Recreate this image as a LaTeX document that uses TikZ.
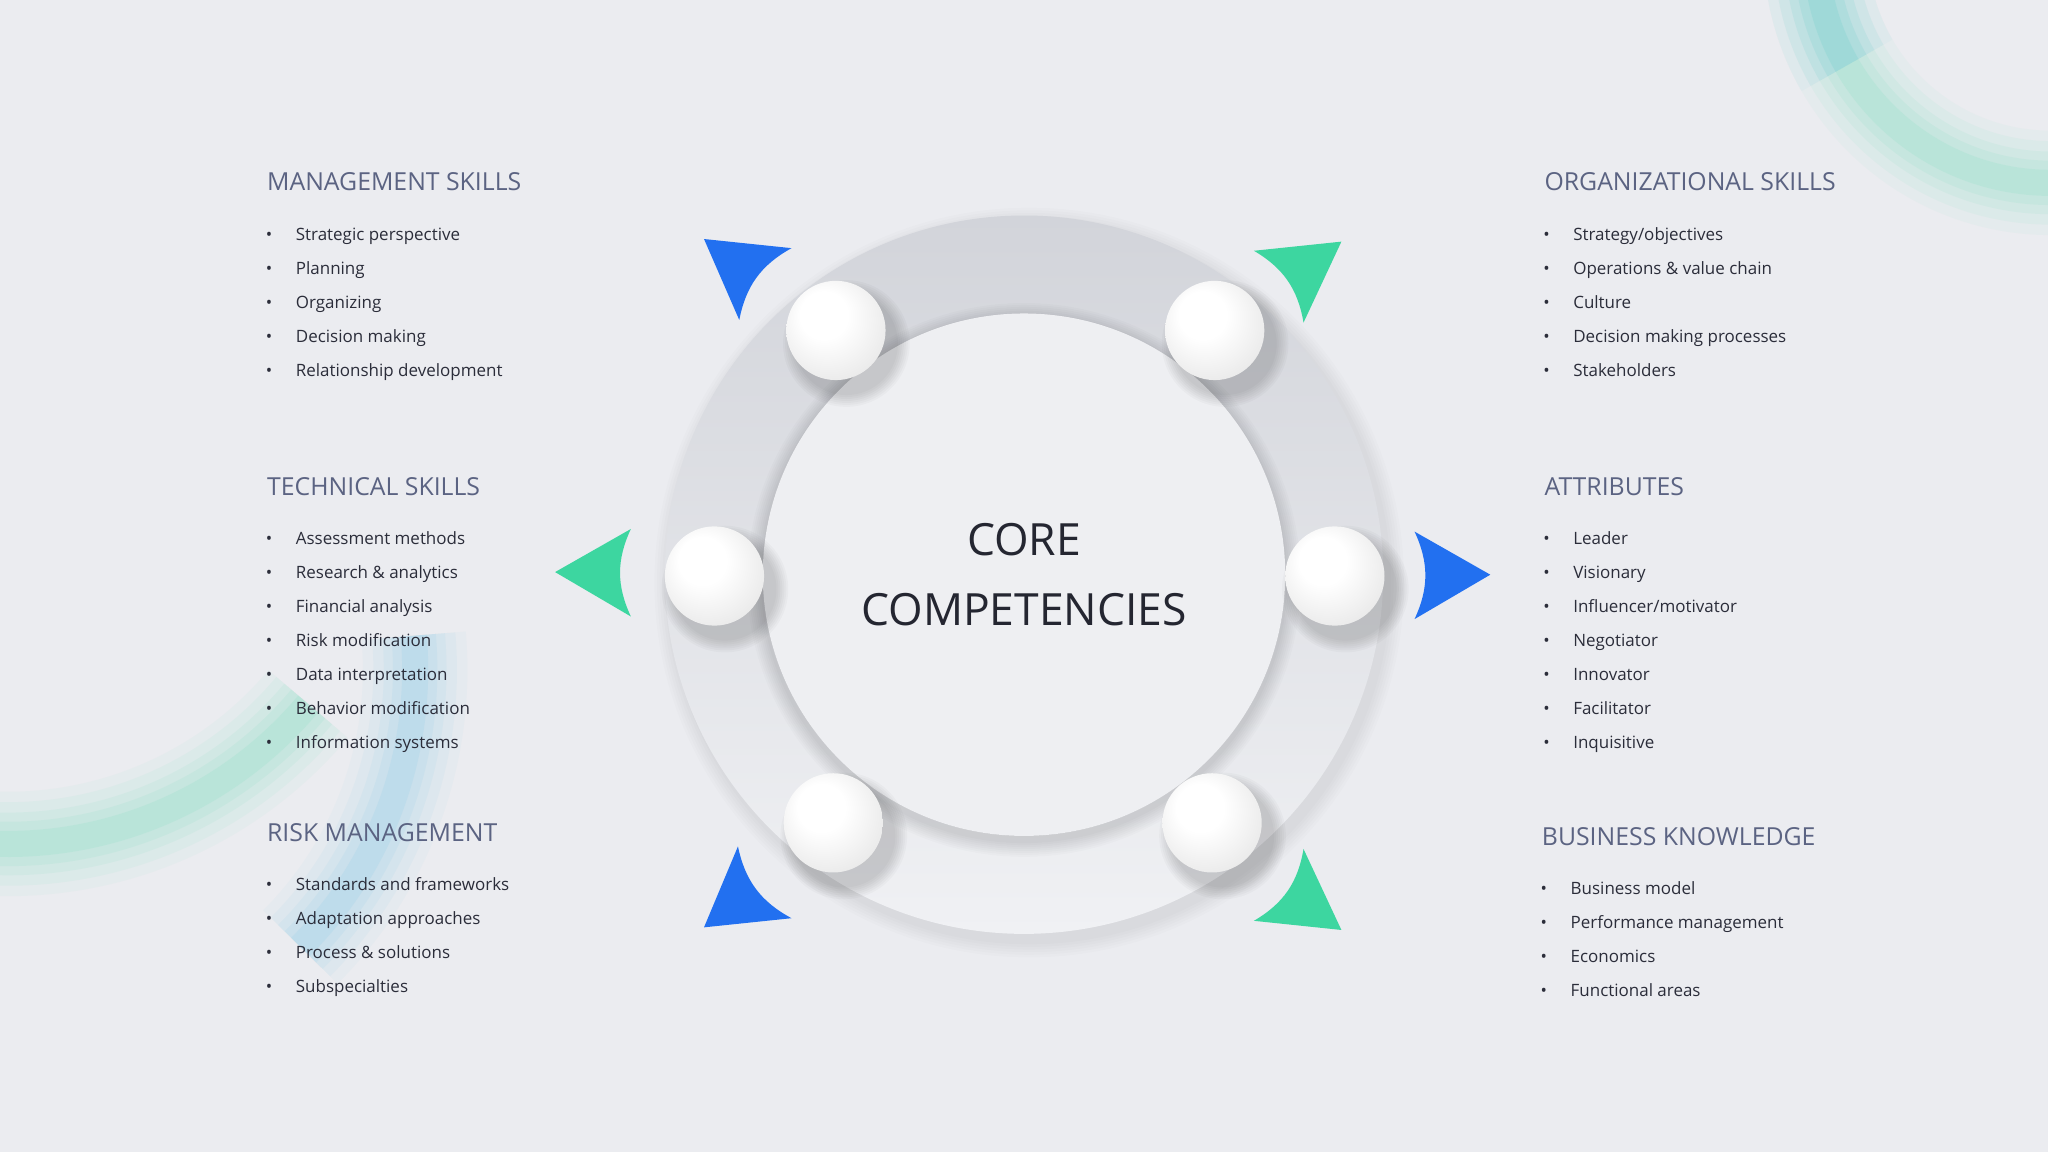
\documentclass[tikz,border=0pt]{standalone}
\usepackage{fontspec}
\setmainfont{Open Sans}
\definecolor{bg}{HTML}{EBECF0}
\definecolor{head}{HTML}{5B6382}
\definecolor{txt}{HTML}{2B2D3A}
\definecolor{tblue}{HTML}{2270F0}
\definecolor{tgreen}{HTML}{3DD6A0}
\definecolor{ringtop}{HTML}{D2D4DA}
\definecolor{ringbot}{HTML}{F0F1F4}
\definecolor{teal}{HTML}{6FDDB8}
\definecolor{sky}{HTML}{7CC6E8}
\usetikzlibrary{fadings,calc}
\pgfdeclareradialshading{sph}{\pgfpoint{-8bp}{10bp}}{color(0bp)=(white);color(12bp)=(white);color(30bp)=(black!8);color(50bp)=(black!22)}
\tikzset{
  head/.style={anchor=base west,text=head,font=\fontsize{19}{22}\selectfont},
  item/.style={anchor=base west,text=txt,font=\fontsize{13}{15}\selectfont},
  dot/.style={anchor=base,text=txt,font=\fontsize{13}{15}\selectfont},
}
\begin{document}
\begin{tikzpicture}[x=1pt,y=-1pt]
\fill[bg] (0,0) rectangle (1568,882);
\useasboundingbox (0,0) rectangle (1568,882);
% blurred arcs
\begin{scope}
\clip (0,0) rectangle (1568,882);
\foreach \w/\o in {80/0.05,64/0.07,48/0.09,34/0.11,20/0.14}{
  \draw[sky,line width=\w,opacity=\o] (1390,-40) arc[start angle=180,end angle=150,radius=180];
  \draw[teal,line width=\w,opacity=\o] (1390,-40) arc[start angle=180,end angle=90,radius=180];
  \draw[teal,line width=\w,opacity=\o] (-20,645) arc[start angle=95,end angle=40,radius=300];
  \draw[sky,line width=\w,opacity=\o] (230,725) arc[start angle=45,end angle=-5,radius=300];
}
\end{scope}
% ring
\coordinate (c) at (784,440);
\foreach \i in {1,...,6}{\fill[black,opacity=0.012] ($(c)+(4,6)$) circle (275+\i*2);}
\shade[top color=ringtop,bottom color=ringbot,even odd rule] (c) circle (275) (c) circle (200);
\foreach \i in {1,...,8}{\fill[black,opacity=0.015] ($(c)+(0,4)$) circle (200+\i*1.5);}
\fill[bg!85!white] (c) circle (200);
\node[font=\fontsize{34}{40}\selectfont,text=txt!85!black,align=center] (core) at (784,440) {CORE\\[14pt]COMPETENCIES};
% spheres
\foreach \n/\x/\y in {s1/640/253,s2/930/253,s3/547/441,s4/1022/441,s5/638/630,s6/928/630}{
  \foreach \k in {1,...,7}{\fill[black,opacity=0.025] (\x+8,\y+10) circle (38+\k*1.5);}
  \shade[shading=sph] (\x,\y) circle (38);
  \coordinate (\n) at (\x,\y);
}
% triangles
\fill[tblue] (539,183) -- (606,190) to[bend right=25] (566,245) -- cycle;
\fill[tgreen] (1027,185) -- (998,247) to[bend right=25] (960,192) -- cycle;
\fill[tgreen] (425,438) -- (483,405) to[bend right=25] (483,472) -- cycle;
\fill[tblue] (1141,440) -- (1083,474) to[bend right=25] (1083,407) -- cycle;
\fill[tblue] (539,710) -- (565,648) to[bend right=25] (606,703) -- cycle;
\fill[tgreen] (1027,712) -- (960,705) to[bend right=25] (998,650) -- cycle;
% text blocks
\def\blk#1#2#3#4{%
  \node[head] at (#1,#2+7) {#3};
  \foreach \t [count=\j] in {#4}{
    \node[dot] at (#1+5,#2+45+26*\j-26) {•};
    \node[item] at (#1+22,#2+45+26*\j-26) {\t};
  }}
\blk{201}{139}{MANAGEMENT SKILLS}{Strategic perspective,Planning,Organizing,Decision making,Relationship development}
\blk{201}{372}{TECHNICAL SKILLS}{Assessment methods,Research \& analytics,Financial analysis,Risk modification,Data interpretation,Behavior modification,Information systems}
\blk{201}{637}{RISK MANAGEMENT}{Standards and frameworks,Adaptation approaches,Process \& solutions,Subspecialties}
\blk{1179}{139}{ORGANIZATIONAL SKILLS}{Strategy/objectives,Operations \& value chain,Culture,Decision making processes,Stakeholders}
\blk{1179}{372}{ATTRIBUTES}{Leader,Visionary,Influencer/motivator,Negotiator,Innovator,Facilitator,Inquisitive}
\blk{1177}{640}{BUSINESS KNOWLEDGE}{Business model,Performance management,Economics,Functional areas}
\end{tikzpicture}
\end{document}
